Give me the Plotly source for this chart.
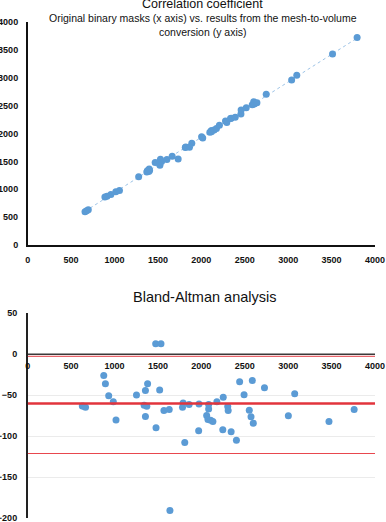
import numpy as np
import plotly.graph_objects as go

# ---------------- data ----------------
# Correlation: original binary masks (x) vs mesh-to-volume results (y)
orig_vol = [660, 679, 698, 889, 913, 958, 1015, 1057, 1278, 1372, 1404, 1394, 1378, 1399,
            1523, 1542, 1603, 1664, 1815, 1820, 1890, 1863, 2003, 2016, 2115, 2117, 2098,
            2116, 2147, 2174, 2208, 2278, 2293, 2336, 2343, 2390, 2456, 2458, 2517, 2603,
            2586, 2610, 2640, 2747, 3099, 3040, 3511, 3794, 1733, 1468, 1529]
mesh_vol = [598, 615, 634, 863, 877, 908, 957, 977, 1228, 1310, 1340, 1318, 1334, 1363,
            1433, 1498, 1535, 1596, 1751, 1760, 1828, 1755, 1943, 1922, 2053, 2051, 2024,
            2036, 2067, 2092, 2150, 2226, 2201, 2272, 2275, 2296, 2352, 2424, 2467, 2571,
            2518, 2534, 2556, 2707, 3051, 2965, 3429, 3727, 1543, 1481, 1542]

# Bland-Altman: mean of methods (x) vs difference (y)
ba_mean = [629, 647, 666, 876, 895, 933, 986, 1017, 1253, 1341, 1372, 1356, 1356, 1381,
           1478, 1520, 1569, 1630, 1783, 1790, 1859, 1809, 1973, 1969, 2084, 2084, 2061,
           2076, 2107, 2133, 2179, 2252, 2247, 2304, 2309, 2343, 2404, 2441, 2492, 2587,
           2552, 2572, 2598, 2727, 3075, 3002, 3470, 3760, 1638, 1474, 1535]
ba_diff = [-63, -63.5, -64.5, -25.8, -35.9, -50.4, -58, -80, -49.6, -62, -63.3, -76, -44,
           -35.9, -89.6, -43.5, -68.5, -67.3, -64.5, -59.3, -61.3, -107.7, -60.5, -93.2,
           -61.3, -66.6, -74.6, -79.4, -80.3, -81.9, -58, -52.4, -92, -63.7, -68.5, -94.4,
           -104.8, -33.4, -49.2, -31.8, -68.2, -76.2, -84, -40.7, -48, -75, -81.9, -67.3,
           -190.5, 13, 13]
mean_diff = -60
upper_loa = -2.5
lower_loa = -121

x_ticks = [0, 500, 1000, 1500, 2000, 2500, 3000, 3500, 4000]
top_y_ticks = [0, 500, 1000, 1500, 2000, 2500, 3000, 3500, 4000]
ba_y_ticks = [50, 0, -50, -100, -150, -200]

# ---------------- style ----------------
W, H = 386, 522
BLUE = "#5B9BD5"
RED = "#E2343C"
FONT = "Liberation Sans, Arial, sans-serif"
tickfont = dict(family=FONT, size=9, color="#111111", weight="bold")

def px_x(p):
    return p / W

def px_y(p):
    return 1 - p / H

x_dom = [px_x(27.7), px_x(375)]
top_dom = [px_y(245), px_y(22.3)]
bot_dom = [px_y(518.3), px_y(313.3)]
ba_range = [-200, 50]
zero_pos = bot_dom[0] + (0 - ba_range[0]) / (ba_range[1] - ba_range[0]) * (bot_dom[1] - bot_dom[0])

fig = go.Figure()

# trendline (linear fit)
coef = np.polyfit(orig_vol, mesh_vol, 1)
tx = np.array([min(orig_vol), max(orig_vol)])
fig.add_trace(go.Scatter(x=tx, y=np.polyval(coef, tx), mode="lines",
                         line=dict(color="#9DC3E6", width=1, dash="dot"),
                         xaxis="x", yaxis="y", hoverinfo="skip", showlegend=False))
fig.add_trace(go.Scatter(x=orig_vol, y=mesh_vol, mode="markers",
                         marker=dict(color=BLUE, size=7),
                         xaxis="x", yaxis="y", showlegend=False))

fig.add_trace(go.Scatter(x=ba_mean, y=ba_diff, mode="markers",
                         marker=dict(color=BLUE, size=7),
                         xaxis="x2", yaxis="y2", showlegend=False))

shapes = []
for val, w, col in [(upper_loa, 1.2, "#E8666C"), (lower_loa, 1.2, "#E8474E"), (mean_diff, 2.5, RED)]:
    shapes.append(dict(type="line", xref="x2", yref="y2", x0=0, x1=4000, y0=val, y1=val,
                       line=dict(color=col, width=w), layer="above"))
# zero line (drawn above)
shapes.append(dict(type="line", xref="x2", yref="y2", x0=0, x1=4000, y0=0, y1=0,
                   line=dict(color="#3a3a3a", width=1.5), layer="above"))

common = dict(automargin=False, ticks="", tickfont=tickfont, zeroline=False,
              ticklabeloverflow="allow")

fig.update_layout(
    width=W, height=H, margin=dict(l=0, r=0, t=0, b=0, autoexpand=False),
    paper_bgcolor="white", plot_bgcolor="white",
    font=dict(family=FONT, color="#111111"),
    showlegend=False,
    xaxis=dict(domain=x_dom, range=[0, 4000], tickvals=x_ticks, showgrid=False,
               showline=True, linecolor="#111111", linewidth=1.5,
               ticklabelstandoff=5, anchor="y", **common),
    yaxis=dict(domain=top_dom, range=[0, 4000], tickvals=top_y_ticks, showgrid=False,
               showline=True, linecolor="#111111", linewidth=1.5,
               ticklabelstandoff=6, anchor="x", **common),
    xaxis2=dict(domain=x_dom, range=[0, 4000], tickvals=x_ticks, showgrid=False,
                showline=False, ticklabelstandoff=5, anchor="free", position=zero_pos,
                **common),
    yaxis2=dict(domain=bot_dom, range=ba_range, tickvals=ba_y_ticks, showgrid=True,
                gridcolor="#ebebeb", gridwidth=1, showline=True,
                linecolor="#222222", linewidth=1.5, ticklabelstandoff=7, anchor="x2",
                **common),
    shapes=shapes,
    annotations=[
        dict(text="Correlation coefficient", x=0.524, y=px_y(13), xref="paper", yref="paper",
             xanchor="center", yanchor="bottom", showarrow=False,
             font=dict(family=FONT, size=12.5, color="#111111")),
        dict(text="Original binary masks (x axis) vs. results from the mesh-to-volume<br>conversion (y axis)",
             x=0.525, y=px_y(10), xref="paper", yref="paper", xanchor="center", yanchor="top",
             showarrow=False, font=dict(family=FONT, size=10.5, color="#111111")),
        dict(text="Bland-Altman analysis", x=0.529, y=px_y(307), xref="paper", yref="paper",
             xanchor="center", yanchor="bottom", showarrow=False,
             font=dict(family=FONT, size=14.5, color="#111111")),
    ],
)

fig.write_html("out.html", config={"displayModeBar": False},
               post_script="document.body.style.margin='0px';document.body.style.padding='0px';")
